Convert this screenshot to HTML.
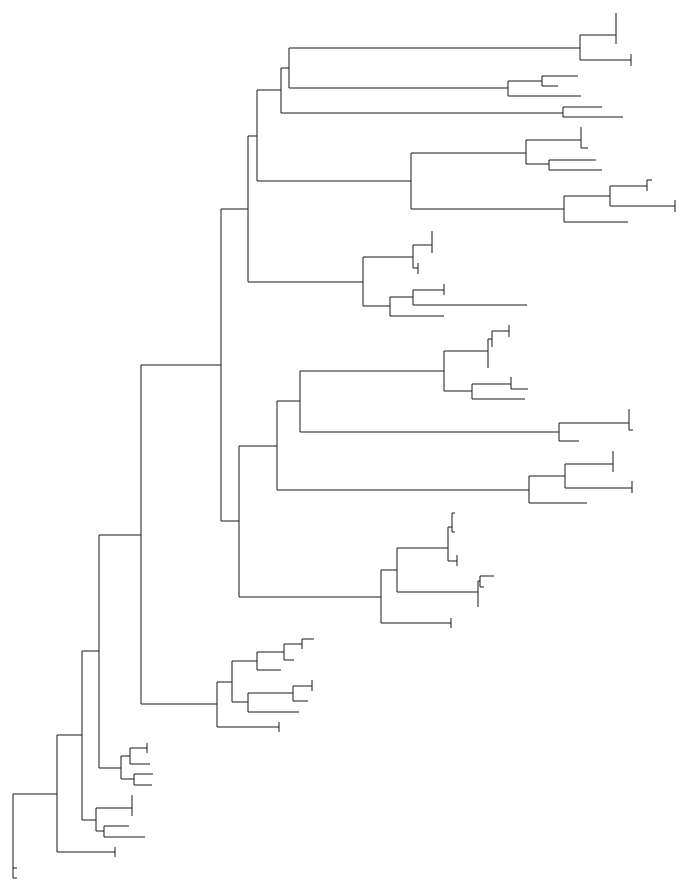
<!DOCTYPE html>
<html><head><meta charset="utf-8"><style>html,body{margin:0;padding:0;background:#fff;width:700px;height:886px;overflow:hidden}</style></head>
<body>
<svg width="700" height="886" viewBox="0 0 700 886" xmlns="http://www.w3.org/2000/svg">
<g stroke="#1a1a1a" stroke-width="1.2" fill="none" shape-rendering="crispEdges">
<!-- root -->
<path d="M13 794V878M13 868H17M13 878H17M13 794H57"/>
<path d="M57 735V852M57 852H115M115 847V857M57 735H82"/>
<path d="M82 651V820M82 820H96M96 808V831M96 808H132M132 795V816M96 831H104M104 826V837M104 826H129M104 837H145"/>
<path d="M82 651H99M99 535V768M99 768H121M121 756V779M121 756H130M130 748V764M130 748H147M147 743V753M130 764H150M121 779H134M134 774V785M134 774H153M134 785H152"/>
<path d="M99 535H141M141 365V704M141 704H217M217 682V727M217 727H279M279 722V732M217 682H232M232 661V702M232 661H257M257 652V670M257 652H284M284 644V660M284 644H302M302 639V649M302 639H314M284 660H294M257 670H281M232 702H248M248 693V712M248 693H293M293 686V701M293 686H312M312 680V691M293 701H308M248 712H299"/>
<!-- 221 clade -->
<path d="M141 365H221M221 209V521M221 521H239M239 446V597"/>
<path d="M239 597H381M381 570V623M381 623H451M451 618V628M381 570H397M397 548V592M397 548H448M448 527V561M448 561H457M457 555V566M448 527H452M452 513V532M452 513H455M452 532H455M397 592H478M478 581V607M478 581H480M480 576V587M480 576H494M480 587H484"/>
<path d="M239 446H277M277 401V490M277 490H529M529 476V503M529 503H587M529 476H565M565 464V488M565 464H613M613 451V472M565 488H632M632 481V493"/>
<path d="M277 401H300M300 371V432M300 432H559M559 423V441M559 441H579M559 423H629M629 409V430M629 430H633M300 371H444M444 351V391M444 391H472M472 384V399M472 399H525M472 384H511M511 377V389M511 389H528M444 351H488M488 339V368M488 339H492M492 331V347M492 331H509M509 325V337"/>
<path d="M221 209H248M248 136V282M248 282H363M363 257V306M363 306H390M390 297V316M390 316H444M390 297H413M413 290V305M413 290H444M444 284V295M413 305H527M363 257H413M413 245V268M413 245H432M432 231V253M413 268H418M418 263V274"/>
<path d="M248 136H257M257 90V181M257 181H411M411 153V209M411 209H564M564 196V222M564 222H628M564 196H610M610 186V206M610 206H675M675 200V212M610 186H647M647 180V191M647 180H652M411 153H526M526 140V164M526 164H549M549 160V170M549 160H596M549 170H602M526 140H581M581 127V148M581 148H588"/>
<path d="M257 90H281M281 68V113M281 113H563M563 107V117M563 107H602M563 117H623M281 68H289M289 48V88M289 88H508M508 81V96M508 96H581M508 81H542M542 76V86M542 76H578M542 86H558M289 48H580M580 35V60M580 60H631M631 54V66M580 35H616M616 13V44"/>
</g>
</svg>
</body></html>
